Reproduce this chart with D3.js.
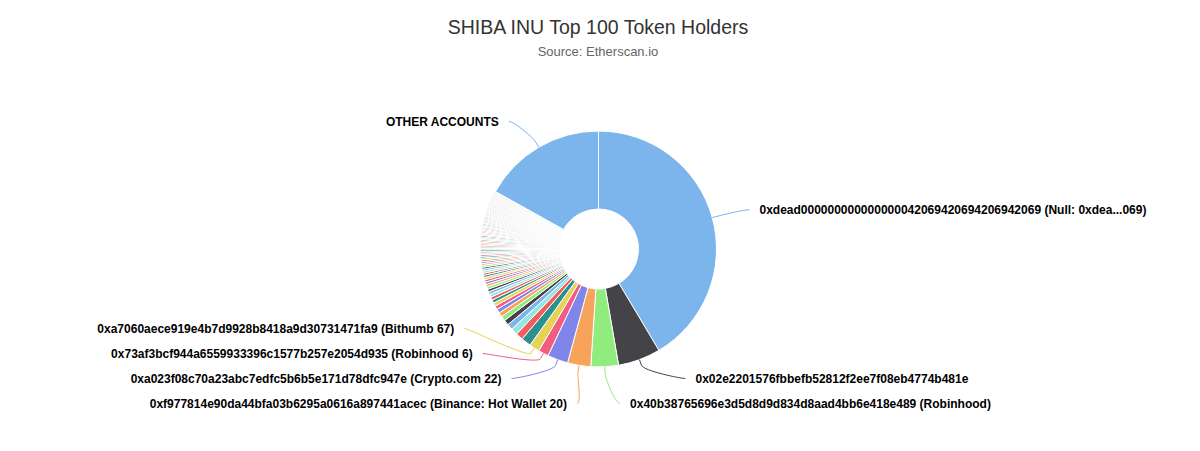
<!DOCTYPE html>
<html>
<head>
<meta charset="utf-8">
<script src="https://cdn.jsdelivr.net/npm/d3@7"></script>
<style>
  body { margin: 0; background: #ffffff; }
  svg { display: block; font-family: "Liberation Sans", Arial, Helvetica, sans-serif; }
</style>
</head>
<body>
<svg id="chart" width="1200" height="451"></svg>
<script>
// labelled holders (first 7 slices), the rest are unlabelled thin slices
const holderNames = [
    "0xdead000000000000000042069420694206942069 (Null: 0xdea...069)",
    "0x02e2201576fbbefb52812f2ee7f08eb4774b481e",
    "0x40b38765696e3d5d8d9d834d8aad4bb6e418e489 (Robinhood)",
    "0xf977814e90da44bfa03b6295a0616a897441acec (Binance: Hot Wallet 20)",
    "0xa023f08c70a23abc7edfc5b6b5e171d78dfc947e (Crypto.com 22)",
    "0x73af3bcf944a6559933396c1577b257e2054d935 (Robinhood 6)",
    "0xa7060aece919e4b7d9928b8418a9d30731471fa9 (Bithumb 67)"
];

// share of supply (%) for top 100 holders
const holderShares = [
    41.2, 5.8, 3.75, 3.15, 2.8, 1.4, 1.4, 1.35,
    1.0, 0.9, 0.8, 0.72, 0.65, 0.6, 0.55, 0.5, 0.47, 0.44,
    0.42, 0.4, 0.38, 0.36, 0.35, 0.34, 0.33, 0.32, 0.31, 0.3, 0.29, 0.28,
    0.27, 0.26, 0.26, 0.25, 0.25, 0.24, 0.24, 0.23, 0.23, 0.22,
    0.22, 0.21, 0.21, 0.21, 0.2, 0.2, 0.2, 0.19, 0.19, 0.19,
    0.18, 0.18, 0.17, 0.17, 0.17, 0.16, 0.16, 0.16, 0.16, 0.15,
    0.15, 0.15, 0.15, 0.15, 0.14, 0.14, 0.14, 0.14, 0.14, 0.14,
    0.14, 0.13, 0.13, 0.13, 0.13, 0.13, 0.13, 0.13, 0.12, 0.12,
    0.12, 0.12, 0.12, 0.12, 0.12, 0.12, 0.11, 0.11, 0.11, 0.11,
    0.11, 0.11, 0.11, 0.1, 0.1, 0.1, 0.1, 0.1, 0.1, 0.1
];

const otherName = "OTHER ACCOUNTS";
const otherShare = 16.8;

const palette = ["#7cb5ec", "#434348", "#90ed7d", "#f7a35c", "#8085e9",
                 "#f15c80", "#e4d354", "#2b908f", "#f45b5b", "#91e8e1"];

const titleText = "SHIBA INU Top 100 Token Holders";
const subtitleText = "Source: Etherscan.io";

let slices = holderShares.map((v, i) => ({name: holderNames[i] || "", value: v, idx: i}));
slices.push({name: otherName, value: otherShare, idx: holderShares.length});

const svg = d3.select("#chart");
const cx = 598.5, cy = 249, r = 118, r0 = 40;
const labelDist = 30, labelR = 156, topY = 94.5, bottomY = 403.5, spacing = 25;

svg.append("text")
    .attr("x", 598).attr("y", 34)
    .attr("text-anchor", "middle")
    .style("font-size", "19.5px").style("fill", "#333333")
    .text(titleText);
svg.append("text")
    .attr("x", 598).attr("y", 56)
    .attr("text-anchor", "middle")
    .style("font-size", "13px").style("fill", "#666666")
    .text(subtitleText);

const pie = d3.pie().sort(null).value(d => d.value);
const arcs = pie(slices);
const arc = d3.arc().innerRadius(r0).outerRadius(r);

const g = svg.append("g").attr("transform", `translate(${cx},${cy})`);
g.selectAll("path").data(arcs).join("path")
    .attr("d", arc)
    .attr("fill", d => palette[d.data.idx % palette.length])
    .attr("stroke", "#ffffff")
    .attr("stroke-width", 1)
    .attr("stroke-linejoin", "round");

// label layout, roughly like highcharts does it
let labelled = arcs.filter(d => d.data.name !== "").map(d => {
    let mid = (d.startAngle + d.endAngle) / 2;
    return {
        d: d,
        mid: mid,
        right: mid < Math.PI,
        ny: cy - (r + labelDist) * Math.cos(mid)
    };
});

// spread overlapping labels around their mean, keep them inside the plot
function placeCluster(c) {
    let n = c.items.length;
    let mean = d3.mean(c.items, l => l.ny);
    let start = mean - (n - 1) * spacing / 2;
    start = Math.max(topY, Math.min(start, bottomY - (n - 1) * spacing));
    c.start = start;
    c.end = start + (n - 1) * spacing;
}

[true, false].forEach(side => {
    let grp = labelled.filter(l => l.right === side).sort((a, b) => a.ny - b.ny);
    let clusters = grp.map(l => ({items: [l]}));
    clusters.forEach(placeCluster);
    let merged = true;
    while (merged) {
        merged = false;
        for (let i = 0; i < clusters.length - 1; i++) {
            if (clusters[i].end + spacing > clusters[i + 1].start) {
                clusters[i].items = clusters[i].items.concat(clusters[i + 1].items);
                clusters.splice(i + 1, 1);
                placeCluster(clusters[i]);
                merged = true;
                break;
            }
        }
    }
    clusters.forEach(c => c.items.forEach((l, k) => { l.y = c.start + k * spacing; }));
});

labelled.forEach(l => {
    let dy = l.y - cy;
    let off = Math.sqrt(Math.max(labelR * labelR - dy * dy, 0));
    l.x = cx + (l.right ? off : -off);
    let tx = cx + r * Math.sin(l.mid), ty = cy - r * Math.cos(l.mid);
    let bx = cx + (r + 6) * Math.sin(l.mid), by = cy - (r + 6) * Math.cos(l.mid);
    l.path = `M${l.x},${l.y}C${l.x + (l.right ? -5 : 5)},${l.y} ${2 * bx - tx},${2 * by - ty} ${bx},${by}L${tx},${ty}`;
});

const lg = svg.append("g");
lg.selectAll("path").data(labelled).join("path")
    .attr("d", l => l.path)
    .attr("fill", "none")
    .attr("stroke", l => palette[l.d.data.idx % palette.length])
    .attr("stroke-width", 1);

lg.selectAll("text").data(labelled).join("text")
    .attr("x", l => l.x + (l.right ? 10 : -10))
    .attr("y", l => l.y)
    .attr("dy", "0.35em")
    .attr("text-anchor", l => l.right ? "start" : "end")
    .style("font-size", "12px")
    .style("font-weight", "bold")
    .style("fill", "#000000")
    .style("stroke", "#ffffff")
    .style("stroke-width", 2)
    .style("stroke-linejoin", "round")
    .style("paint-order", "stroke")
    .text(l => l.d.data.name);
</script>
</body>
</html>
